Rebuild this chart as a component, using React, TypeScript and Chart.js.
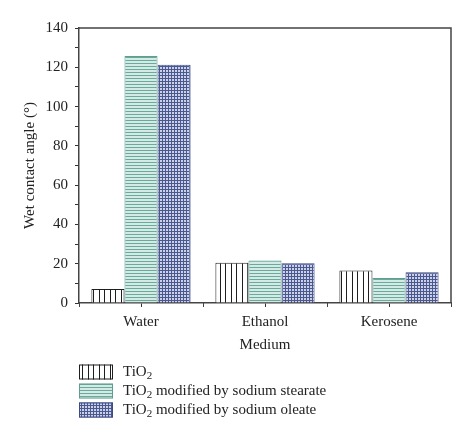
import React, { useEffect, useRef } from 'react';
import { Chart, registerables } from 'chart.js';

Chart.register(...registerables);

const categories = ['Water', 'Ethanol', 'Kerosene'];
const tio2 = [7.1, 20.5, 16.5];
const stearate = [125.8, 21.7, 12.7];
const oleate = [121.3, 20.2, 15.6];
const seriesNames = ['TiO2', 'TiO2 modified by sodium stearate', 'TiO2 modified by sodium oleate'];

const FONT = '"Liberation Serif", "DejaVu Serif", serif';

function makePattern(kind: string): CanvasPattern | string {
  const c = document.createElement('canvas');
  const g = c.getContext('2d');
  if (!g) return '#ccc';
  if (kind === 'vert') {
    c.width = 11; c.height = 4;
    g.fillStyle = '#ffffff';
    g.fillRect(0, 0, 11, 4);
    g.fillStyle = '#1e1e1e';
    g.fillRect(0, 0, 1, 4);
    g.fillRect(5, 0, 1, 4);
  } else if (kind === 'horiz') {
    c.width = 4; c.height = 3;
    g.fillStyle = '#d3ebe4';
    g.fillRect(0, 0, 4, 3);
    g.fillStyle = '#6aa99b';
    g.fillRect(0, 0, 4, 1);
  } else {
    c.width = 3; c.height = 3;
    g.fillStyle = '#cdd1e6';
    g.fillRect(0, 0, 3, 3);
    g.fillStyle = '#4a5892';
    g.fillRect(0, 0, 3, 1);
    g.fillRect(0, 0, 1, 3);
  }
  const p = g.createPattern(c, 'repeat');
  return p || '#ccc';
}

const App: React.FC = () => {
  const chartRef = useRef<HTMLCanvasElement | null>(null);

  useEffect(() => {
    document.body.style.margin = '0';
    if (!chartRef.current) return;
    const ctx = chartRef.current.getContext('2d');
    if (!ctx) return;

    const fills = [makePattern('vert'), makePattern('horiz'), makePattern('grid')];
    const borders = ['#1e1e1e', '#5e9e91', '#3c4a86'];

    // frame on top/right, boundary ticks and the stacked legend
    const extras = {
      id: 'extras',
      afterDraw(chart: any) {
        const { ctx: c, chartArea: a } = chart;
        const xs = chart.scales.x;
        c.save();
        c.strokeStyle = '#444';
        c.lineWidth = 1.5;
        c.beginPath();
        c.moveTo(a.left, a.top);
        c.lineTo(a.right, a.top);
        c.lineTo(a.right, a.bottom);
        c.stroke();
        // ticks at category boundaries
        const step = xs.getPixelForValue(1) - xs.getPixelForValue(0);
        c.lineWidth = 1;
        c.beginPath();
        for (let i = 0; i <= categories.length; i++) {
          const px = Math.round(xs.getPixelForValue(0) - step / 2 + i * step) + 0.5;
          c.moveTo(px, a.bottom);
          c.lineTo(px, a.bottom + 4);
        }
        c.stroke();

        // legend
        const lx = a.left;
        let ly = 372;
        chart.data.datasets.forEach((ds: any, i: number) => {
          c.fillStyle = ds.backgroundColor;
          c.fillRect(lx, ly - 7.5, 34, 15);
          c.strokeStyle = ds.borderColor;
          c.lineWidth = 1;
          c.strokeRect(lx + 0.5, ly - 7, 33, 14);
          c.fillStyle = '#222';
          c.textBaseline = 'middle';
          c.font = `15px ${FONT}`;
          const name: string = seriesNames[i];
          let tx = lx + 44;
          c.fillText('TiO', tx, ly);
          tx += c.measureText('TiO').width;
          c.font = `11px ${FONT}`;
          c.fillText('2', tx, ly + 4);
          tx += c.measureText('2').width;
          c.font = `15px ${FONT}`;
          c.fillText(name.slice(4), tx, ly);
          ly += 19;
        });
        c.restore();
      },
    };

    const myChart = new Chart(ctx, {
      type: 'bar',
      data: {
        labels: categories,
        datasets: [tio2, stearate, oleate].map((d, i) => ({
          label: seriesNames[i],
          data: d,
          backgroundColor: fills[i] as any,
          borderColor: borders[i],
          borderWidth: 1,
          categoryPercentage: 0.8,
          barPercentage: 1,
        })),
      },
      options: {
        responsive: true,
        maintainAspectRatio: false,
        animation: false,
        layout: { padding: { top: 28, right: 23, bottom: 82, left: 0 } },
        plugins: {
          legend: { display: false },
          tooltip: { enabled: false },
        },
        scales: {
          x: {
            afterFit: (s: any) => { s.height = 56; },
            grid: { drawOnChartArea: false, offset: false, tickLength: 4, tickColor: '#333' },
            border: { color: '#444', width: 1.5 },
            ticks: { color: '#222', padding: 6, font: { family: FONT, size: 15 } },
            title: {
              display: true,
              text: 'Medium',
              color: '#222',
              font: { family: FONT, size: 15 },
              padding: { top: 0, bottom: 5 },
            },
          },
          y: {
            min: 0,
            max: 140,
            afterFit: (s: any) => { s.width = 79; },
            grid: { drawOnChartArea: false, tickLength: 4, tickColor: '#333' },
            border: { color: '#444', width: 1.5 },
            ticks: {
              stepSize: 10,
              autoSkip: false,
              color: '#222',
              padding: 7,
              font: { family: FONT, size: 15 },
              callback: (v: any) => (Number(v) % 20 === 0 ? String(v) : ''),
            },
            title: {
              display: true,
              text: 'Wet contact angle (°)',
              color: '#222',
              font: { family: FONT, size: 15 },
              padding: { top: 21, bottom: 0 },
            },
          },
        },
      },
      plugins: [extras],
    });

    return () => {
      myChart.destroy();
    };
  }, []);

  return (
    <div style={{ position: 'relative', width: 474, height: 441, background: '#fff' }}>
      <canvas ref={chartRef} />
    </div>
  );
};

export default App;
